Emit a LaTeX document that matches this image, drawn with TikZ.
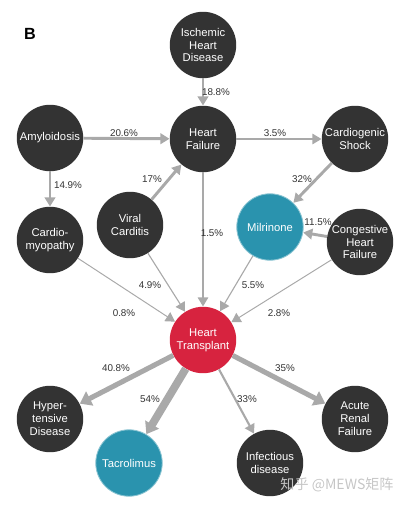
\documentclass[tikz,border=0pt]{standalone}
\usepackage{fontspec}
\setmainfont{Liberation Sans}
\newfontfamily\cjk{Noto Sans CJK SC}
\usetikzlibrary{arrows.meta}
\definecolor{dunkel}{HTML}{333333}
\definecolor{petrol}{HTML}{2A93AE}
\definecolor{rot}{HTML}{D7233F}
\definecolor{pfeil}{HTML}{A9A9A9}
\definecolor{schrift}{HTML}{333333}
\tikzset{
  knoten/.style={circle,fill=dunkel,text=white,minimum size=1.66cm,inner sep=0pt,
    align=center,font=\fontsize{8}{9.2}\selectfont},
  drug/.style={knoten,fill=petrol,draw=petrol!55!white,line width=0.6pt},
  ziel/.style={knoten,fill=rot},
  pct/.style={text=schrift,font=\fontsize{7}{8}\selectfont,inner sep=1pt},
  fl/.style={pfeil,line width=#1,-{Triangle[length=6.5pt,width=7.5pt]}},
  fl/.default=1pt,
  flb/.style={pfeil,line width=#1,-{Triangle[length=8pt,width=11pt]}},
  flb/.default=3.6pt,
}

\begin{document}
\begin{tikzpicture}[x=0.025cm,y=-0.025cm]
  \useasboundingbox (0,0) rectangle (403,506);
  \node[font=\bfseries\fontsize{11.5}{12}\selectfont] (panel) at (30,34) {B};
  % Knoten
  \node[knoten] (ihd) at (203,45) {Ischemic\\Heart\\Disease};
  \node[knoten] (amy) at (50,138) {Amyloidosis};
  \node[knoten] (hf)  at (203,139) {Heart\\Failure};
  \node[knoten] (cs)  at (355,139) {Cardiogenic\\Shock};
  \node[knoten] (cm)  at (50,240) {Cardio-\\myopathy};
  \node[knoten] (vc)  at (130,225) {Viral\\Carditis};
  \node[drug]   (mil) at (270,227) {Milrinone};
  \node[knoten] (chf) at (360,242) {Congestive\\Heart\\Failure};
  \node[ziel]   (ht)  at (203,340) {Heart\\Transplant};
  \node[knoten] (hyp) at (50,419) {Hyper-\\tensive\\Disease};
  \node[drug]   (tac) at (129,463) {Tacrolimus};
  \node[knoten] (inf) at (270,463) {Infectious\\disease};
  \node[knoten] (arf) at (355,419) {Acute\\Renal\\Failure};
  % Pfeile
  \draw[fl=2.1pt] (ihd) -- (hf);
  \draw[fl=2.1pt] (amy) -- (hf);
  \draw[fl=1pt]   (hf) -- (cs);
  \draw[fl=2.1pt] (amy) -- (cm);
  \draw[fl=2.1pt] (vc) -- (hf);
  \draw[fl=2.1pt] (cs) -- (mil);
  \draw[fl=2.1pt] (chf) -- (mil);
  \draw[fl=1pt]   (hf) -- (ht);
  \draw[fl=0.8pt] (vc) -- (ht);
  \draw[fl=0.8pt] (mil) -- (ht);
  \draw[fl=0.7pt] (cm) -- (ht);
  \draw[fl=0.7pt] (chf) -- (ht);
  \draw[flb=3.6pt] (ht) -- (hyp);
  \draw[flb=5.6pt] (ht) -- (tac);
  \draw[fl=1.5pt]  (ht) -- (inf);
  \draw[flb=3.6pt] (ht) -- (arf);
  % Prozente
  \node[pct] (p188) at (216,92)  {18.8\%};
  \node[pct] (p206) at (124,133) {20.6\%};
  \node[pct] (p35a) at (275,133) {3.5\%};
  \node[pct] (p149) at (68,185)  {14.9\%};
  \node[pct] (p17)  at (152,179) {17\%};
  \node[pct] (p32)  at (302,179) {32\%};
  \node[pct] (p115) at (318,222) {11.5\%};
  \node[pct] (p15)  at (212,233) {1.5\%};
  \node[pct] (p49)  at (150,285) {4.9\%};
  \node[pct] (p55)  at (253,285) {5.5\%};
  \node[pct] (p08)  at (124,313) {0.8\%};
  \node[pct] (p28)  at (279,313) {2.8\%};
  \node[pct] (p408) at (116,368) {40.8\%};
  \node[pct] (p54)  at (150,399) {54\%};
  \node[pct] (p33)  at (247,399) {33\%};
  \node[pct] (p35b) at (285,368) {35\%};
  % Wasserzeichen
  \node[text=gray!45,font=\cjk\fontsize{10}{12}\selectfont] (wm) at (337,485) {知乎 @MEWS矩阵};
\end{tikzpicture}
\end{document}
